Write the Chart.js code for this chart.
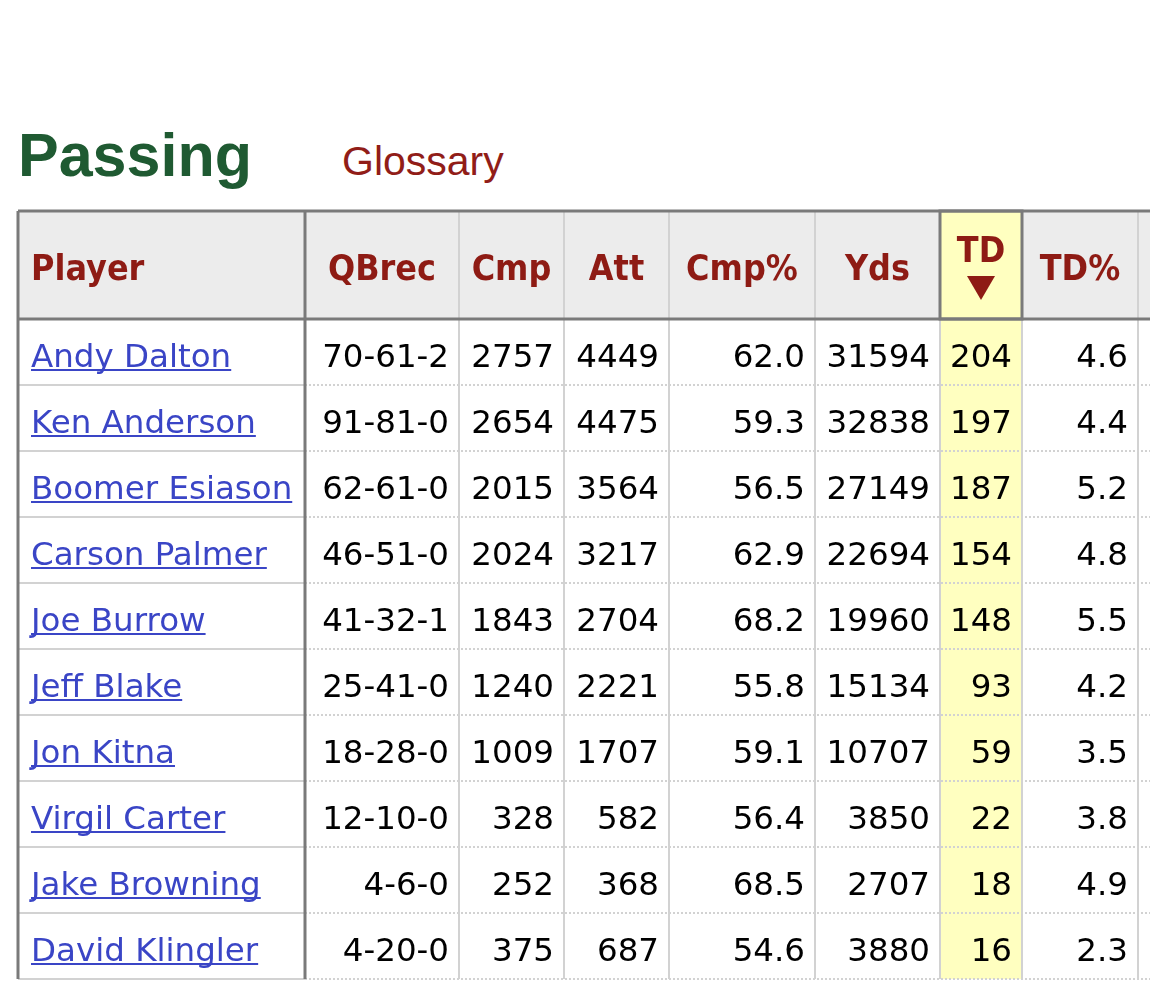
<!DOCTYPE html>
<html>
<head>
<meta charset="utf-8">
<title>Passing</title>
<script src="https://cdn.jsdelivr.net/npm/chart.js@4.4.1/dist/chart.umd.min.js"></script>
<style>
	html, body { margin:0; padding:0; background:#fff; width:1170px; height:981px; overflow:hidden; }
	#page { position:relative; width:1170px; height:981px; }
	#title { position:absolute; left:18px; top:120px; margin:0; line-height:1; font:bold 61px "Liberation Sans", Arial, sans-serif; color:#1f5a32; }
	#gloss { position:absolute; left:342px; top:138px; line-height:1; font:41px "Liberation Sans", Arial, sans-serif; color:#911d18; }
	#table { position:absolute; left:0; top:0; }
</style>
</head>
<body>
<div id="page">
	<h2 id="title">Passing</h2>
	<span id="gloss">Glossary</span>
	<canvas id="table" width="1170" height="981"></canvas>
</div>
<script>
	// Table data
	let columns = ["Player", "QBrec", "Cmp", "Att", "Cmp%", "Yds", "TD", "TD%"];
	let players = ["Andy Dalton", "Ken Anderson", "Boomer Esiason", "Carson Palmer", "Joe Burrow", "Jeff Blake", "Jon Kitna", "Virgil Carter", "Jake Browning", "David Klingler"];
	let qbrec = ["70-61-2", "91-81-0", "62-61-0", "46-51-0", "41-32-1", "25-41-0", "18-28-0", "12-10-0", "4-6-0", "4-20-0"];
	let cmp = [2757, 2654, 2015, 2024, 1843, 1240, 1009, 328, 252, 375];
	let att = [4449, 4475, 3564, 3217, 2704, 2221, 1707, 582, 368, 687];
	let cmpPct = [62.0, 59.3, 56.5, 62.9, 68.2, 55.8, 59.1, 56.4, 68.5, 54.6];
	let yds = [31594, 32838, 27149, 22694, 19960, 15134, 10707, 3850, 2707, 3880];
	let td = [204, 197, 187, 154, 148, 93, 59, 22, 18, 16];
	let tdPct = [4.6, 4.4, 5.2, 4.8, 5.5, 4.2, 3.5, 3.8, 4.9, 2.3];
	let sortColumn = "TD";

	// Layout (px), last width is the clipped next column
	let colWidths = [287, 154, 105, 105, 146, 125, 82, 116, 12];
	let headerHeight = 108, rowHeight = 66;

	let edges = [0];
	colWidths.forEach(w => edges.push(edges[edges.length-1] + w));

	let cells = [
		players,
		qbrec,
		cmp.map(String),
		att.map(String),
		cmpPct.map(v => v.toFixed(1)),
		yds.map(String),
		td.map(String),
		tdPct.map(v => v.toFixed(1))
	];

	let datasets = cells.map((vals, c) => ({
		label: columns[c],
		texts: vals,
		data: vals.map((v, i) => ({ x: c == 0 ? edges[0] + 13 : edges[c+1] - 10, y: i + 0.5 })),
		pointRadius: 0
	}));

	const dataFont = '32.5px "DejaVu Sans", Verdana, sans-serif';
	const headFont = 'bold 32px "DejaVu Sans", Verdana, sans-serif';
	const darkLine = "#7a7a7a", lightLine = "#d2d2d2", headRed = "#8e1b14";

	// header text is a bit taller than the body font
	function headText(ctx, txt, x, y) {
		ctx.save();
		ctx.translate(x, y);
		ctx.scale(1, 1.13);
		ctx.fillText(txt, 0, 0);
		ctx.restore();
	}

	const tablePlugin = {
		id: 'statTable',
		beforeDatasetsDraw(chart) {
			const ctx = chart.ctx, x = chart.scales.x, y = chart.scales.y;
			const px = e => x.getPixelForValue(edges[e]);
			const top = y.getPixelForValue(y.min), headBottom = y.getPixelForValue(0), bottom = y.getPixelForValue(players.length);
			const left = px(0), right = px(edges.length-1);
			const sc = columns.indexOf(sortColumn);
			ctx.save();

			// header + sorted column backgrounds
			ctx.fillStyle = "#ececec";
			ctx.fillRect(left, top, right-left, headBottom-top);
			ctx.fillStyle = "#ffffc0";
			ctx.fillRect(px(sc), top, px(sc+1)-px(sc), bottom-top);

			// row separators
			ctx.lineWidth = 2;
			ctx.strokeStyle = lightLine;
			for (let i = 1; i <= players.length; i++) {
				let yy = y.getPixelForValue(i);
				ctx.setLineDash([]);
				ctx.beginPath(); ctx.moveTo(left, yy); ctx.lineTo(px(1), yy); ctx.stroke();
				ctx.setLineDash([2, 2]);
				ctx.beginPath(); ctx.moveTo(px(1), yy); ctx.lineTo(right, yy); ctx.stroke();
			}
			ctx.setLineDash([]);

			// column separators
			for (let e = 2; e < edges.length-1; e++) {
				ctx.beginPath(); ctx.moveTo(px(e), top); ctx.lineTo(px(e), bottom); ctx.stroke();
			}

			// heavy borders
			ctx.strokeStyle = darkLine;
			ctx.lineWidth = 3;
			ctx.beginPath();
			ctx.moveTo(left, top); ctx.lineTo(right, top);
			ctx.moveTo(left, headBottom); ctx.lineTo(right, headBottom);
			ctx.moveTo(left, top); ctx.lineTo(left, bottom);
			ctx.moveTo(px(1), top); ctx.lineTo(px(1), bottom);
			ctx.stroke();
			ctx.strokeRect(px(sc), top, px(sc+1)-px(sc), headBottom-top);

			// header labels
			ctx.fillStyle = headRed;
			ctx.font = headFont;
			ctx.textBaseline = "alphabetic";
			let mid = (top + headBottom) / 2;
			columns.forEach((name, c) => {
				let cx = (px(c) + px(c+1)) / 2;
				if (c == 0) {
					ctx.textAlign = "left";
					headText(ctx, name, px(0) + 13, mid + 15);
				} else if (c == sc) {
					ctx.textAlign = "center";
					headText(ctx, name, cx, top + 51);
					ctx.beginPath();
					ctx.moveTo(cx - 14, top + 65); ctx.lineTo(cx + 14, top + 65); ctx.lineTo(cx, top + 89);
					ctx.closePath(); ctx.fill();
				} else {
					ctx.textAlign = "center";
					headText(ctx, name, cx, mid + 15);
				}
			});
			ctx.restore();
		},
		afterDatasetsDraw(chart) {
			const ctx = chart.ctx;
			ctx.save();
			ctx.font = dataFont;
			ctx.textBaseline = "alphabetic";
			chart.data.datasets.forEach((ds, d) => {
				let meta = chart.getDatasetMeta(d);
				meta.data.forEach((pt, i) => {
					let txt = ds.texts[i];
					if (d == 0) {
						ctx.fillStyle = "#3a45c6";
						ctx.textAlign = "left";
						ctx.fillText(txt, pt.x, pt.y + 15);
						let w = ctx.measureText(txt).width;
						ctx.fillRect(pt.x, pt.y + 17, w, 2);
					} else {
						ctx.fillStyle = "#000";
						ctx.textAlign = "right";
						ctx.fillText(txt, pt.x, pt.y + 15);
					}
				});
			});
			ctx.restore();
		}
	};

	let ctx = document.getElementById('table').getContext('2d');
	let chart = new Chart(ctx, {
		type: 'scatter',
		data: { datasets: datasets },
		options: {
			responsive: false,
			animation: false,
			events: [],
			layout: { padding: { left: 18, right: 20, top: 211, bottom: 2 } },
			plugins: { legend: { display: false }, tooltip: { enabled: false } },
			scales: {
				x: { type: 'linear', display: false, min: 0, max: edges[edges.length-1] },
				y: { type: 'linear', display: false, reverse: true, min: -headerHeight/rowHeight, max: players.length }
			}
		},
		plugins: [tablePlugin]
	});
</script>
</body>
</html>
